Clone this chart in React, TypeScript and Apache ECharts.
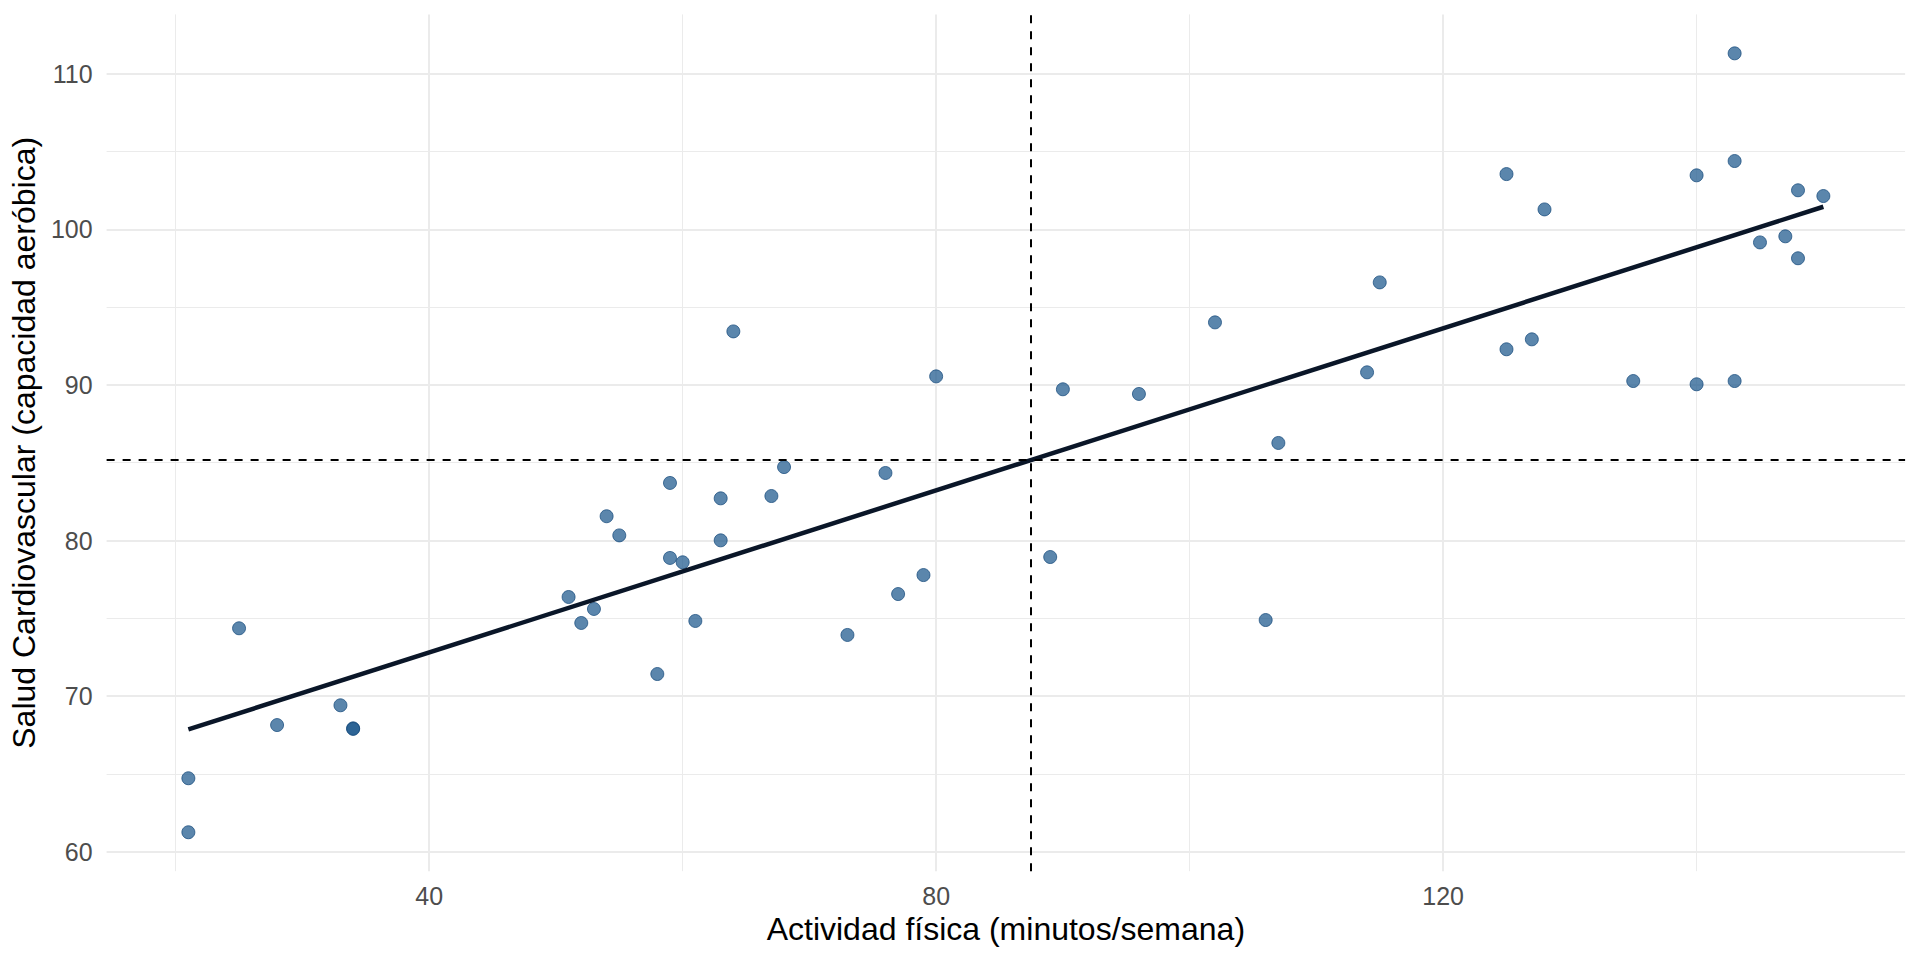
import React, { useEffect, useRef } from "react";
import * as echarts from "echarts";

// Actividad física (minutos/semana)
const actividad: number[] = [
  21, 21, 25, 28, 33, 34, 34, 64, 80, 68,
  76, 59, 63, 67, 54, 55, 63, 59, 60, 79,
  77, 51, 53, 52, 61, 73, 58, 115, 102, 90,
  96, 114, 107, 89, 106, 143, 143, 140, 125, 128,
  148, 150, 147, 145, 148, 125, 127, 135, 140, 143,
];
// Salud Cardiovascular (capacidad aeróbica)
const salud: number[] = [
  64.72, 61.25, 74.36, 68.14, 69.41, 67.93, 67.89, 93.44, 90.55, 84.72,
  84.34, 83.7, 82.71, 82.86, 81.56, 80.33, 80.01, 78.88, 78.6, 77.78,
  76.56, 76.37, 75.6, 74.7, 74.83, 73.93, 71.42, 96.59, 94.02, 89.72,
  89.42, 90.81, 86.27, 78.94, 74.89, 111.31, 104.39, 103.47, 103.55, 101.28,
  102.51, 102.14, 99.55, 99.16, 98.14, 92.29, 92.93, 90.25, 90.04, 90.25,
];

const xTicks: number[] = [40, 80, 120];
const xMinor: number[] = [20, 60, 100, 140];
const yTicks: number[] = [60, 70, 80, 90, 100, 110];
const yMinor: number[] = [65, 75, 85, 95, 105];

const xTitle = "Actividad física (minutos/semana)";
const yTitle = "Salud Cardiovascular (capacidad aeróbica)";

export default function App() {
  const ref = useRef<HTMLDivElement>(null);

  useEffect(() => {
    if (!ref.current) return;
    const chart = echarts.init(ref.current, null, { renderer: "svg" });

    const n = actividad.length;
    const mx = actividad.reduce((a, b) => a + b, 0) / n;
    const my = salud.reduce((a, b) => a + b, 0) / n;
    let sxy = 0;
    let sxx = 0;
    for (let i = 0; i < n; i++) {
      sxy += (actividad[i] - mx) * (salud[i] - my);
      sxx += (actividad[i] - mx) ** 2;
    }
    const slope = sxy / sxx;
    const intercept = my - slope * mx;
    const xLo = Math.min(...actividad);
    const xHi = Math.max(...actividad);
    const yLo = Math.min(...salud);
    const yHi = Math.max(...salud);
    const xPad = (xHi - xLo) * 0.05;
    const yPad = (yHi - yLo) * 0.05;

    const font = "'Liberation Sans', Arial, sans-serif";
    const gridMajor = { color: "#ebebeb", width: 2, type: "solid" as const };
    const gridMinor = { color: "#ebebeb", width: 1, type: "solid" as const };

    const gridData: any[] = [
      ...xMinor.map((v) => ({ xAxis: v, lineStyle: gridMinor })),
      ...xTicks.map((v) => ({ xAxis: v, lineStyle: gridMajor })),
      ...yMinor.map((v) => ({ yAxis: v, lineStyle: gridMinor })),
      ...yTicks.map((v) => ({ yAxis: v, lineStyle: gridMajor })),
    ];

    chart.setOption({
      animation: false,
      backgroundColor: "#ffffff",
      grid: { left: 103.6, right: 14.9, top: 14.4, bottom: 88.8, containLabel: false },
      xAxis: {
        type: "value",
        min: xLo - xPad,
        max: xHi + xPad,
        name: xTitle,
        nameLocation: "middle",
        nameGap: 41,
        nameTextStyle: { color: "#000000", fontSize: 32, fontFamily: font },
        axisLine: { show: false },
        axisTick: { show: false, customValues: xTicks },
        splitLine: { show: false },
        axisLabel: {
          customValues: xTicks,
          color: "#4d4d4d",
          fontSize: 25,
          fontFamily: font,
          margin: 12,
        },
      },
      yAxis: {
        type: "value",
        min: yLo - yPad,
        max: yHi + yPad,
        name: yTitle,
        nameLocation: "middle",
        nameGap: 60,
        nameTextStyle: { color: "#000000", fontSize: 32, fontFamily: font },
        axisLine: { show: false },
        axisTick: { show: false, customValues: yTicks },
        splitLine: { show: false },
        axisLabel: {
          customValues: yTicks,
          color: "#4d4d4d",
          fontSize: 25,
          fontFamily: font,
          margin: 14,
        },
      },
      series: [
        {
          type: "line",
          data: [],
          z: 1,
          silent: true,
          markLine: {
            z: 1,
            silent: true,
            symbol: ["none", "none"],
            label: { show: false },
            emphasis: { disabled: true },
            data: gridData,
          },
        },
        {
          type: "scatter",
          z: 3,
          symbol: "circle",
          symbolSize: 13,
          data: actividad.map((x, i) => [x, salud[i]]),
          itemStyle: {
            color: "rgba(28,88,140,0.9)",
            borderColor: "rgba(20,72,122,0.9)",
            borderWidth: 1,
          },
          emphasis: { disabled: true },
        },
        {
          type: "line",
          z: 4,
          data: [
            [xLo, intercept + slope * xLo],
            [xHi, intercept + slope * xHi],
          ],
          showSymbol: false,
          symbol: "none",
          lineStyle: { color: "#0a1628", width: 4.5 },
          silent: true,
        },
        {
          type: "line",
          data: [],
          z: 6,
          silent: true,
          markLine: {
            z: 6,
            silent: true,
            symbol: ["none", "none"],
            label: { show: false },
            emphasis: { disabled: true },
            lineStyle: { color: "#000000", width: 2, type: [8, 8] },
            data: [{ xAxis: mx }, { yAxis: my }],
          },
        },
      ],
    });

    return () => chart.dispose();
  }, []);

  return (
    <div
      ref={ref}
      style={{ position: "fixed", left: 0, top: 0, width: 1920, height: 960 }}
    />
  );
}
